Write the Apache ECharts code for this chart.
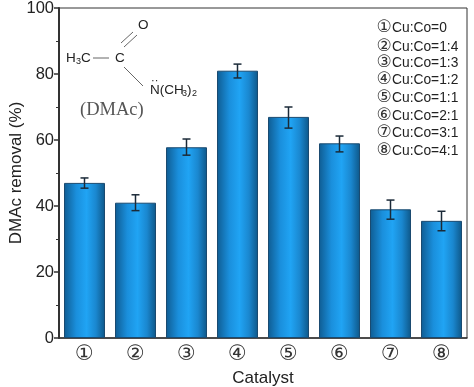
<!DOCTYPE html>
<html><head><meta charset="utf-8">
<style>html,body{margin:0;padding:0;background:#fff}#c{width:474px;height:387px}</style>
<script src="https://cdn.jsdelivr.net/npm/echarts@6/dist/echarts.min.js"></script>
</head><body><div id="c"></div>
<script>
const categories = ['①','②','③','④','⑤','⑥','⑦','⑧'];
const removal = [47, 41, 57.8, 81, 67, 59, 39, 35.5];
const errLow = [45.4, 38.6, 55.4, 78.8, 63.6, 56.4, 36, 32.5];
const errHigh = [48.5, 43.4, 60.3, 83, 70, 61.2, 41.8, 38.4];
const legendLines = ['Cu:Co=0','Cu:Co=1:4','Cu:Co=1:3','Cu:Co=1:2','Cu:Co=1:1','Cu:Co=2:1','Cu:Co=3:1','Cu:Co=4:1'];
const sans = '"Liberation Sans", Arial, sans-serif';
const chart = echarts.init(document.getElementById('c'), null, {renderer:'canvas'});
const txt = (x,y,text,size,extra) => ({type:'text',x,y,silent:true,style:Object.assign({text,fontSize:size,fontFamily:sans,fill:'#222',textVerticalAlign:'middle'},extra||{})});
const seg = (x1,y1,x2,y2) => ({type:'line',silent:true,shape:{x1,y1,x2,y2},style:{stroke:'#666',lineWidth:1}});
chart.setOption({
  animation:false,
  grid:{left:59,right:7,top:8,bottom:49,show:true,borderColor:'#333',borderWidth:1,outerBoundsMode:'none'},
  xAxis:{type:'category',data:categories,
    axisLine:{lineStyle:{color:'#333',width:1.5}},axisTick:{show:false},
    axisLabel:{fontSize:21,color:'#333',margin:6,fontFamily:'"DejaVu Sans"'},
    name:'Catalyst',nameLocation:'middle',nameGap:32,nameMoveOverlap:false,nameTextStyle:{fontSize:17,color:'#222',fontFamily:sans}},
  yAxis:{type:'value',min:0,max:100,interval:20,
    axisLine:{show:true,lineStyle:{color:'#333',width:2}},
    axisTick:{show:true,length:5,lineStyle:{color:'#333',width:1.5}},
    minorTick:{show:true,splitNumber:2,length:3,lineStyle:{color:'#333'}},
    splitLine:{show:false},minorSplitLine:{show:false},
    axisLabel:{fontSize:16.5,color:'#222',margin:5,fontFamily:sans},
    name:'DMAc removal (%)',nameLocation:'middle',nameGap:34,nameMoveOverlap:false,nameTextStyle:{fontSize:17,color:'#222',fontFamily:sans}},
  series:[
    {type:'bar',data:removal,barWidth:41,
      itemStyle:{borderColor:'#1a4a70',borderWidth:1,
        color:{type:'linear',x:0,y:0,x2:1,y2:0,colorStops:[
          {offset:0,color:'#0f5c92'},{offset:0.3,color:'#1a8fdc'},{offset:0.55,color:'#20a4f4'},
          {offset:0.78,color:'#1a87cf'},{offset:1,color:'#0e5788'}]}}},
    {type:'custom',
      data:categories.map((c,i)=>[i,errLow[i],errHigh[i]]),
      encode:{x:0,y:[1,2]},z:5,
      renderItem(params,api){
        const lo=api.coord([api.value(0),api.value(1)]);
        const hi=api.coord([api.value(0),api.value(2)]);
        const w=4;
        const st={stroke:'#1b2a38',lineWidth:1.5,fill:null};
        return {type:'group',children:[
          {type:'line',shape:{x1:lo[0],y1:lo[1],x2:hi[0],y2:hi[1]},style:st},
          {type:'line',shape:{x1:lo[0]-w,y1:lo[1],x2:lo[0]+w,y2:lo[1]},style:st},
          {type:'line',shape:{x1:hi[0]-w,y1:hi[1],x2:hi[0]+w,y2:hi[1]},style:st}
        ]};
      }}
  ],
  graphic:[
    txt(66,58,'H',13.5), txt(76,62,'3',9), txt(81,58,'C',13.5),
    seg(93,58,109,58),
    txt(115,58,'C',13.5),
    seg(121,43,133,32), seg(124,47,137,35),
    txt(138,25,'O',13.5),
    seg(124,67,143,86),
    txt(150,90,'N(CH',13.5), txt(182,94,'3',9), txt(187,90,')',13.5), txt(192,94,'2',9),
    txt(151,81,'··',11),
    txt(80,110,'(DMAc)',18.5,{fontFamily:'"Liberation Serif", serif',fill:'#555'})
  ].concat(legendLines.flatMap((s,i)=>{
    const ys=[28,47,63,80,98,116,133,151];
    return [
      txt(376.5,ys[i],categories[i],17,{fontFamily:'"DejaVu Sans"',fill:'#333'}),
      txt(392,ys[i],s,13.8)
    ];
  }))
});
</script></body></html>
